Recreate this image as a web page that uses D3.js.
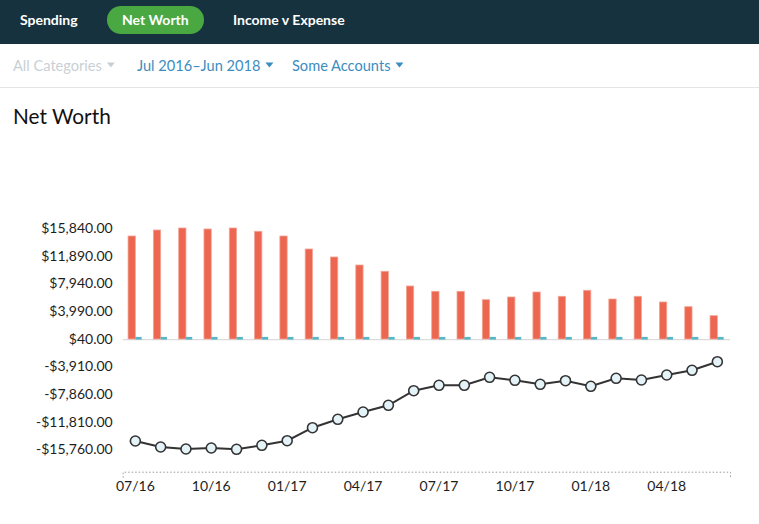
<!DOCTYPE html>
<html>
<head>
<meta charset="utf-8">
<script src="https://cdn.jsdelivr.net/npm/d3@7/dist/d3.min.js"></script>
<style>
  html, body { margin: 0; padding: 0; background: #fff; }
  body { width: 759px; height: 524px; overflow: hidden; font-family: Lato, "Open Sans", sans-serif; }
</style>
</head>
<body>
<svg id="chart" width="759" height="524"></svg>
<script>
const months = ["07/16","08/16","09/16","10/16","11/16","12/16","01/17","02/17","03/17","04/17","05/17","06/17",
                "07/17","08/17","09/17","10/17","11/17","12/17","01/18","02/18","03/18","04/18","05/18","06/18"];
const assets = [14714, 15571, 15857, 15714, 15857, 15386, 14714, 12857, 11714, 10571, 9671, 7571,
                6814, 6814, 5614, 6000, 6714, 6100, 6957, 5714, 6100, 5286, 4614, 3329];
const liabilities = [300, 300, 300, 300, 300, 300, 300, 300, 300, 300, 300, 300,
                     300, 300, 300, 300, 300, 300, 300, 300, 300, 300, 300, 300];
const netWorth = [-14571, -15429, -15714, -15571, -15757, -15186, -14529, -12671, -11471, -10429, -9471, -7386,
                  -6614, -6614, -5471, -5900, -6471, -5957, -6757, -5614, -5857, -5143, -4471, -3243];
const yTicks = [15840, 11890, 7940, 3990, 40, -3910, -7860, -11810, -15760];
const xTickLabels = ["07/16","10/16","01/17","04/17","07/17","10/17","01/18","04/18"];
const navItems = ["Spending", "Net Worth", "Income v Expense"];
const filters = ["All Categories", "Jul 2016\u2013Jun 2018", "Some Accounts"];

const svg = d3.select("#chart");

// Header bar
svg.append("rect").attr("x", 0).attr("y", 0).attr("width", 759).attr("height", 44).attr("fill", "#17323f");
svg.append("rect").attr("x", 107).attr("y", 6).attr("width", 97).attr("height", 28).attr("rx", 14).attr("fill", "#4aa843");
const navX = [20, 122, 233];
navItems.forEach((t, i) => {
  svg.append("text").attr("x", navX[i]).attr("y", 25)
    .attr("fill", "#fff").attr("font-size", 14).attr("font-weight", 700)
    .attr("font-family", "Lato, sans-serif").text(t);
});

// Filter bar
svg.append("line").attr("x1", 0).attr("x2", 759).attr("y1", 87.5).attr("y2", 87.5).attr("stroke", "#e3e6e8");
const filterX = [13, 137, 292];
const filterCol = ["#c9d0d5", "#3c8dbf", "#3c8dbf"];
const triCol = ["#c9d0d5", "#3c8dbf", "#3c8dbf"];
filters.forEach((t, i) => {
  const tx = svg.append("text").attr("x", filterX[i]).attr("y", 71)
    .attr("fill", filterCol[i]).attr("font-size", 14.6)
    .attr("font-family", "Lato, sans-serif").text(t);
  const w = tx.node().getComputedTextLength();
  const cx = filterX[i] + w + 9;
  svg.append("path").attr("d", `M${cx - 4},${62.5} L${cx + 4},${62.5} L${cx},${67.5} Z`).attr("fill", triCol[i]);
});

// Title
svg.append("text").attr("x", 13).attr("y", 124).attr("font-size", 20.8).attr("fill", "#111")
  .attr("font-family", "Lato, sans-serif").text("Net Worth");

// Scales
const x = d3.scaleBand().domain(months).range([122.7, 730]).padding(0);
const y = d3.scaleLinear().domain([-18800, 19500]).range([470.6, 202.5]);
const cx = d => x(d) + x.bandwidth() / 2;

// Y axis
const fmt = v => (v < 0 ? "-$" : "$") + d3.format(",.2f")(Math.abs(v));
const yAxis = svg.append("g").attr("transform", "translate(122.7,0)")
  .call(d3.axisLeft(y).tickValues(yTicks).tickFormat(fmt).tickSize(0).tickPadding(10));
yAxis.select(".domain").remove();
yAxis.selectAll("text").attr("font-size", 14).attr("fill", "#1e1e1e").attr("font-family", "Lato, sans-serif");

// Baseline
svg.append("line").attr("x1", 122.7).attr("x2", 730).attr("y1", y(0) + 0.6).attr("y2", y(0) + 0.6)
  .attr("stroke", "#dcdcdc").attr("stroke-width", 1.3);

// Asset bars
svg.append("g").selectAll("rect").data(months).join("rect")
  .attr("x", (d) => cx(d) - 7.3)
  .attr("width", 7.3)
  .attr("y", (d, i) => y(assets[i]))
  .attr("height", (d, i) => y(0) - y(assets[i]))
  .attr("fill", "#ec6650")
  .attr("stroke", "#f3a497").attr("stroke-width", 0.8);

// Liability bars
svg.append("g").selectAll("rect").data(months).join("rect")
  .attr("x", (d) => cx(d))
  .attr("width", 6.3)
  .attr("y", (d, i) => y(liabilities[i]))
  .attr("height", (d, i) => y(0) - y(liabilities[i]) + 0.6)
  .attr("fill", "#56b6c6");

// X axis
const xAxis = svg.append("g").attr("transform", "translate(0,471.7)")
  .call(d3.axisBottom(x).tickValues(xTickLabels).tickSizeInner(0).tickSizeOuter(6).tickPadding(9));
xAxis.select(".domain").attr("stroke", "#9a9a9a").attr("stroke-dasharray", "1.5,2").attr("stroke-width", 1);
xAxis.selectAll("text").attr("font-size", 14).attr("fill", "#1e1e1e").attr("font-family", "Lato, sans-serif");

// Net worth line
const line = d3.line().x((d, i) => cx(months[i])).y(d => y(d));
svg.append("path").datum(netWorth).attr("d", line)
  .attr("fill", "none").attr("stroke", "#333").attr("stroke-width", 2);
svg.append("g").selectAll("circle").data(netWorth).join("circle")
  .attr("cx", (d, i) => cx(months[i])).attr("cy", d => y(d)).attr("r", 5)
  .attr("fill", "#e4f3f8").attr("stroke", "#333").attr("stroke-width", 1.6);
</script>
</body>
</html>
